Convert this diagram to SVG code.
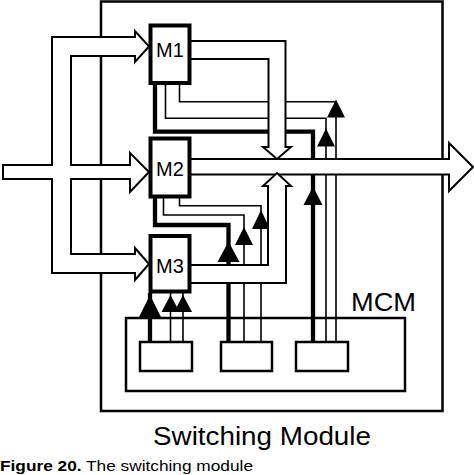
<svg xmlns="http://www.w3.org/2000/svg" width="474" height="475" viewBox="0 0 474 475">
<style>
.box{fill:#fff;stroke:#000;stroke-width:2.5}
.mod{fill:#fff;stroke:#000;stroke-width:4}
.band{fill:#fff;stroke:#000;stroke-width:2;stroke-linejoin:miter}
.thick{fill:none;stroke:#000;stroke-width:4.3}
.thin{fill:none;stroke:#000;stroke-width:1.6}
.head{fill:#000;stroke:none}
.lbl{font-family:"Liberation Sans",Arial,sans-serif;fill:#000}
</style>
<rect id="switching-module" class="box" x="101" y="1.5" width="341.5" height="409.5"/>
<g id="mcm">
<rect class="box" x="126" y="318" width="279" height="73"/>
<text class="lbl" x="351" y="311" font-size="26" textLength="65" lengthAdjust="spacingAndGlyphs">MCM</text>
</g>
<g id="mcm-unit1"><rect class="box" x="140" y="342" width="52" height="29"/></g>
<g id="mcm-unit2"><rect class="box" x="221" y="342" width="51" height="29"/></g>
<g id="mcm-unit3"><rect class="box" x="296" y="342" width="52" height="29"/></g>
<g id="connectors">
<polyline class="thick" points="155,83 155,131.7 313,131.7 313,342"/>
<polyline class="thin" points="165.5,83 165.5,118.3 326,118.3 326,342"/>
<polyline class="thin" points="179.5,83 179.5,101.7 336,101.7 336,342"/>
<polyline class="thick" points="155,196 155,225 228.5,225 228.5,342"/>
<polyline class="thin" points="163.5,196 163.5,215 244,215 244,342"/>
<polyline class="thin" points="179.5,196 179.5,205.7 261,205.7 261,342"/>
<line class="thick" x1="150" y1="293" x2="150" y2="342"/>
<line class="thin" x1="170.5" y1="293" x2="170.5" y2="342"/>
<line class="thin" x1="183" y1="293" x2="183" y2="342"/>
<polygon class="head" points="336,99.5 345,117.5 327,117.5"/>
<polygon class="head" points="326,128.5 335,146.5 317,146.5"/>
<polygon class="head" points="313,186.5 322.5,205 303.5,205"/>
<polygon class="head" points="228.5,241.5 239.5,262 217.5,262"/>
<polygon class="head" points="244,227 253,245 235,245"/>
<polygon class="head" points="261,210 270,229 252,229"/>
<polygon class="head" points="150,295 161.5,318 138.5,318"/>
<polygon class="head" points="170.5,295 179.5,312 161.5,312"/>
<polygon class="head" points="183,295 192,312 174,312"/>
<polygon class="band" points="3,165 52,165 52,37 135,37 135,31 149,46.5 135,62 135,56 71,56 71,165 130,165 130,153 149,172 130,192 130,179 71,179 71,254 135,254 135,248 149,264 135,280 135,273 52,273 52,179 3,179"/>
<polygon class="band" points="190,159 449,159 449,143 473,167 449,191 449,174.5 190,174.5"/>
<polygon class="band" points="190,41 285.5,41 285.5,147 291,147 277,159 263,147 268.5,147 268.5,59 190,59"/>
<polygon class="band" points="190,265 268,265 268,186 263,186 277,173 291,186 286,186 286,283 190,283"/>
</g>
<g id="m1"><rect class="mod" x="150.5" y="25.5" width="39" height="57.5"/><text class="lbl" x="170" y="57" font-size="20" text-anchor="middle">M1</text></g>
<g id="m2"><rect class="mod" x="150.5" y="138.5" width="39" height="58"/><text class="lbl" x="170" y="175.5" font-size="20" text-anchor="middle">M2</text></g>
<g id="m3"><rect class="mod" x="150.5" y="236" width="39" height="55.5"/><text class="lbl" x="170" y="272.5" font-size="20" text-anchor="middle">M3</text></g>
<text class="lbl" x="153" y="445" font-size="26" textLength="218" lengthAdjust="spacingAndGlyphs">Switching Module</text>
<text class="lbl" x="0" y="471" font-size="14" textLength="253" lengthAdjust="spacingAndGlyphs"><tspan font-weight="bold">Figure 20.</tspan> The switching module</text>
</svg>
